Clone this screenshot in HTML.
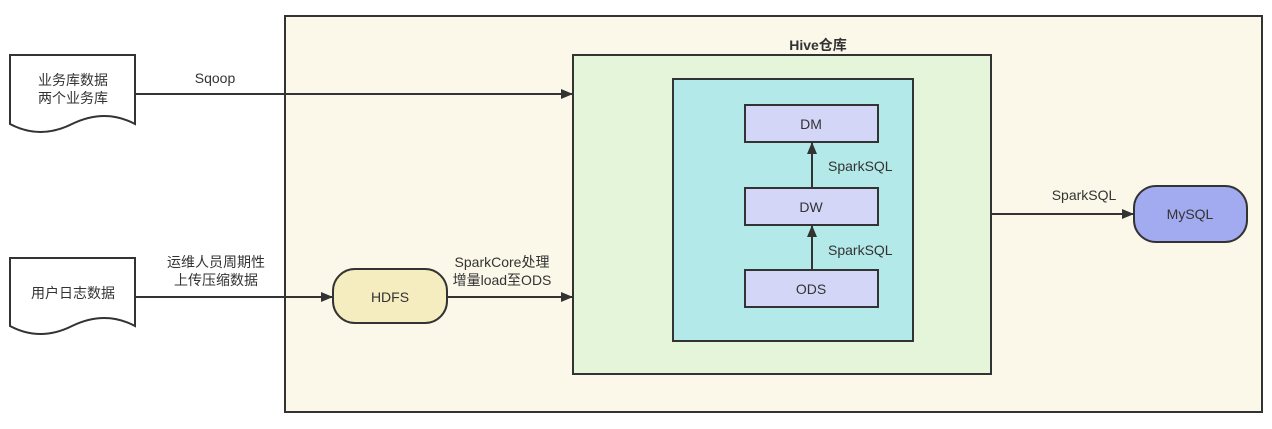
<!DOCTYPE html>
<html><head><meta charset="utf-8"><style>
body{margin:0;background:#fff}
svg text{font-family:"Liberation Sans","Noto Sans CJK SC",sans-serif;font-size:14px;fill:#333}
</style></head><body>
<svg width="1272" height="424" xmlns="http://www.w3.org/2000/svg">
<defs><marker id="a" markerWidth="12" markerHeight="10" refX="11" refY="5" orient="auto" markerUnits="userSpaceOnUse"><path d="M0,0 L12,5 L0,10 Z" fill="#333"/></marker></defs>
<rect x="285" y="16" width="977" height="396" fill="#fbf8e9" stroke="#333" stroke-width="2"/>
<rect x="573" y="55" width="418" height="319" fill="#e4f5da" stroke="#333" stroke-width="2"/>
<text x="818" y="50" text-anchor="middle" font-weight="bold" style="font-weight:bold">Hive仓库</text>
<rect x="673" y="79" width="240" height="262" fill="#b3e9e8" stroke="#333" stroke-width="2"/>
<rect x="745" y="105" width="133" height="37" fill="#d3d6f7" stroke="#333" stroke-width="2"/>
<text x="811" y="129" text-anchor="middle">DM</text>
<rect x="745" y="188" width="133" height="37" fill="#d3d6f7" stroke="#333" stroke-width="2"/>
<text x="811" y="212" text-anchor="middle">DW</text>
<rect x="745" y="270" width="133" height="37" fill="#d3d6f7" stroke="#333" stroke-width="2"/>
<text x="811" y="294" text-anchor="middle">ODS</text>
<line x1="812" y1="270" x2="812" y2="226" stroke="#333" stroke-width="2" marker-end="url(#a)"/>
<line x1="812" y1="188" x2="812" y2="143" stroke="#333" stroke-width="2" marker-end="url(#a)"/>
<text x="828" y="171">SparkSQL</text>
<text x="828" y="255">SparkSQL</text>
<path d="M10,55 H135 V124 Q105,108 72,124 Q40,140 10,124 Z" fill="#fff" stroke="#333" stroke-width="2"/>
<text x="73" y="85" text-anchor="middle">业务库数据</text>
<text x="73" y="103" text-anchor="middle">两个业务库</text>
<path d="M10,258 H135 V326 Q105,310 72,326 Q40,342 10,326 Z" fill="#fff" stroke="#333" stroke-width="2"/>
<text x="73" y="298" text-anchor="middle">用户日志数据</text>
<line x1="135" y1="94" x2="572" y2="94" stroke="#333" stroke-width="2" marker-end="url(#a)"/>
<text x="215" y="83" text-anchor="middle">Sqoop</text>
<line x1="135" y1="297" x2="332" y2="297" stroke="#333" stroke-width="2" marker-end="url(#a)"/>
<text x="216" y="267" text-anchor="middle">运维人员周期性</text>
<text x="216" y="285" text-anchor="middle">上传压缩数据</text>
<rect x="333" y="269" width="114" height="54" rx="22" fill="#f5ecbf" stroke="#333" stroke-width="2"/>
<text x="390" y="302" text-anchor="middle">HDFS</text>
<line x1="447" y1="297" x2="572" y2="297" stroke="#333" stroke-width="2" marker-end="url(#a)"/>
<text x="502" y="267" text-anchor="middle">SparkCore处理</text>
<text x="502" y="285" text-anchor="middle">增量load至ODS</text>
<line x1="991" y1="214" x2="1133" y2="214" stroke="#333" stroke-width="2" marker-end="url(#a)"/>
<text x="1084" y="200" text-anchor="middle">SparkSQL</text>
<rect x="1134" y="186" width="113" height="56" rx="22" fill="#a3abf0" stroke="#333" stroke-width="2"/>
<text x="1190" y="219" text-anchor="middle">MySQL</text>
</svg>
</body></html>
